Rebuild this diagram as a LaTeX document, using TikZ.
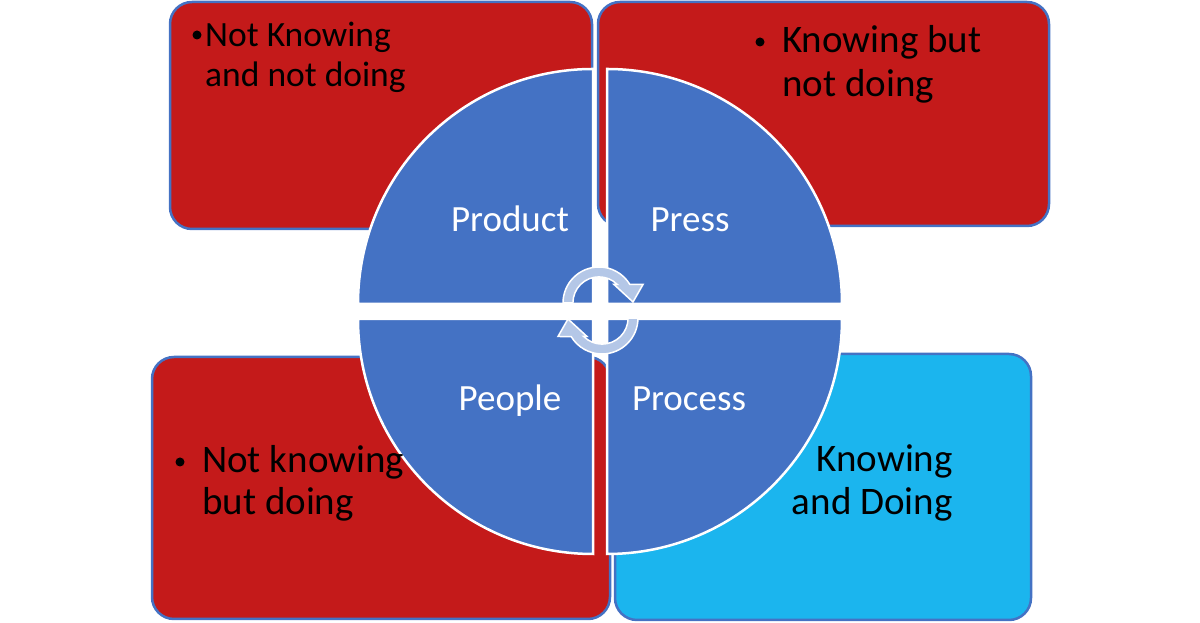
\documentclass[tikz,border=0pt]{standalone}
\usepackage{fontspec}
\setmainfont{Carlito}
\definecolor{boxred}{RGB}{196,26,26}
\definecolor{edgeblue}{RGB}{68,114,196}
\definecolor{skyblue}{RGB}{27,181,238}
\definecolor{quadblue}{RGB}{68,114,196}
\definecolor{arrowfill}{RGB}{180,199,231}
\begin{document}
\begin{tikzpicture}[x=1pt,y=1pt,
 box/.style={draw=edgeblue, line width=2.5pt, rounded corners=22pt},
 quad/.style={fill=quadblue, draw=white, line width=2.5pt},
 lbl/.style={text=white, font=\fontsize{37}{44}\selectfont, anchor=base, inner sep=0},
 btext/.style={text=black, inner sep=0},
 bul/.style={circle, fill=black, inner sep=0, minimum size=9pt},
 cyc/.style={fill=arrowfill, draw=white, line width=1.5pt}]
\useasboundingbox (0,0) rectangle (1200,623);
% boxes
\draw[box, fill=boxred] (170,394) rectangle (592,621);
\draw[box, fill=boxred] (598,397) rectangle (1049,621);
\draw[box, fill=boxred] (152,4) rectangle (610,266);
\draw[box, fill=skyblue] (615,3) rectangle (1031,269);
% quadrants
\draw[quad] (593,319) -- ++(-235,0) arc[start angle=180, end angle=90, radius=235] -- cycle;
\draw[quad] (607,319) -- ++(0,235) arc[start angle=90, end angle=0, radius=235] -- cycle;
\draw[quad] (593,304) -- ++(0,-235) arc[start angle=270, end angle=180, radius=235] -- cycle;
\draw[quad] (607,304) -- ++(235,0) arc[start angle=0, end angle=-90, radius=235] -- cycle;
% box texts (anchored at the baseline of the last line)
\node[bul] (b1) at (197,588) {};
\node[btext, align=left, anchor=base west, font=\fontsize{35.5}{40}\selectfont] (t1) at (205,536) {Not Knowing\\and not doing};
\node[bul] (b2) at (760,581) {};
\node[btext, align=left, anchor=base west, font=\fontsize{39}{44}\selectfont] (t2) at (782,526) {Knowing but\\not doing};
\node[bul] (b3) at (180,161) {};
\node[btext, align=left, anchor=base west, font=\fontsize{39}{42}\selectfont] (t3) at (202,108) {Not knowing\\but doing};
\node[btext, align=right, anchor=base east, font=\fontsize{39}{43}\selectfont] (t4) at (953,108) {Knowing\\and Doing};
% circle labels
\node[lbl] (product) at (510,391) {Product};
\node[lbl] (press) at (690,391) {Press};
\node[lbl] (people) at (510,212) {People};
\node[lbl] (process) at (689,212) {Process};
% cycle arrows
\begin{scope}[shift={(599,320)}]
\draw[cyc] (-36,0) arc[start angle=180, end angle=31, radius=36] -- (44,18.5) -- (34,1) -- (15,18.5) -- (18.3,18.5) arc[start angle=45, end angle=180, radius=26] -- cycle;
\end{scope}
\begin{scope}[shift={(602,305)}, rotate=180]
\draw[cyc] (-36,0) arc[start angle=180, end angle=31, radius=36] -- (44,18.5) -- (34,1) -- (15,18.5) -- (18.3,18.5) arc[start angle=45, end angle=180, radius=26] -- cycle;
\end{scope}
\end{tikzpicture}
\end{document}
